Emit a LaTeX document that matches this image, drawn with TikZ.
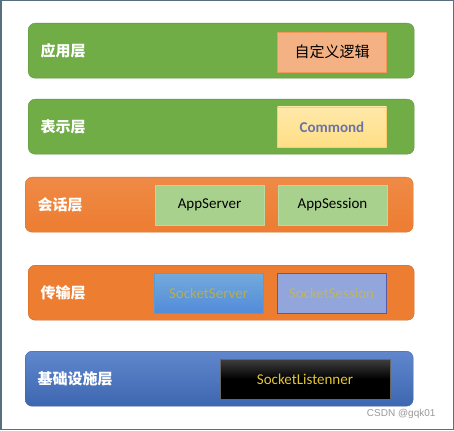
\documentclass[tikz,border=0pt]{standalone}
\usepackage{fontspec}
\usepackage{xcolor}
\setmainfont{Carlito}
\newfontfamily\cjk{Noto Sans CJK SC}
\newfontfamily\wmfont{Liberation Sans}

\definecolor{lgreen}{HTML}{70AD47}
\definecolor{lorange}{HTML}{ED7D31}
\definecolor{lblue}{HTML}{4472C4}
\definecolor{salmon}{HTML}{F4B183}
\definecolor{paleyellow}{HTML}{FFDF85}
\definecolor{palegreen}{HTML}{A9D18E}
\definecolor{skyblue}{HTML}{5B9BD5}
\definecolor{lavender}{HTML}{93A6DC}
\definecolor{oliveyel}{HTML}{B9AE4E}
\definecolor{slateblue}{HTML}{6B72A8}
\definecolor{framecol}{HTML}{56707F}

\begin{document}
\begin{tikzpicture}[x=1pt,y=-1pt,
    layer/.style={rounded corners=7pt, minimum width=386pt, minimum height=55pt, inner sep=0pt, anchor=north west},
    lbl/.style={anchor=west, text=white, font=\cjk\bfseries\fontsize{15}{17}\selectfont},
    box/.style={minimum width=109pt, minimum height=40pt, inner sep=0pt, font=\fontsize{15}{17}\selectfont}]
    \draw[framecol, line width=1.5pt, fill=white] (0.75,0.75) rectangle (453.25,429.25);

    % layers
    \node[layer, fill=lgreen, draw=lgreen!85!black] (app) at (28,23) {};
    \node[layer, fill=lgreen, draw=lgreen!85!black] (pres) at (28,99) {};
    \node[layer, top color=lorange!90!white, bottom color=lorange, draw=lorange!90!black, minimum width=388pt] (sess) at (25,177) {};
    \node[layer, fill=lorange, draw=lorange!85!black] (trans) at (28,265) {};
    \node[layer, top color=lblue!85!white, bottom color=lblue!90!black, draw=lblue!85!black, minimum width=388pt] (infra) at (25,351) {};

    \node[lbl] (appT) at ([xshift=9pt]app.west) {应用层};
    \node[lbl] (presT) at ([xshift=9pt]pres.west) {表示层};
    \node[lbl] (sessT) at ([xshift=9pt]sess.west) {会话层};
    \node[lbl] (transT) at ([xshift=9pt]trans.west) {传输层};
    \node[lbl] (infraT) at ([xshift=9pt]infra.west) {基础设施层};

    % components
    \node[box, fill=salmon, draw=lorange!80!white, font=\cjk\fontsize{15}{17}\selectfont] (logic) at (332,52) {自定义逻辑};
    \node[box, top color=paleyellow!70!white, bottom color=paleyellow, draw=paleyellow!80!orange, text=slateblue, font=\bfseries\fontsize{15}{17}\selectfont] (cmd) at (332,127) {Commond};
    \node[box, fill=palegreen, draw=palegreen!80!white] (appsrv) at (209.5,205) {AppServer};
    \node[box, fill=palegreen, draw=palegreen!80!white] (appses) at (332.5,205) {AppSession};
    \node[box, top color=skyblue!85!white, bottom color=skyblue!90!blue, draw=skyblue, text=oliveyel] (socksrv) at (208.5,293) {SocketServer};
    \node[box, fill=lavender, draw=blue!30!gray, text=oliveyel!90!white] (sockses) at (331.5,293) {SocketSession};
    \node[box, minimum width=170pt, top color=black!75, bottom color=black, middle color=black, draw=black!60, text=yellow!55!brown] (listen) at (305,379) {SocketListenner};

    \node[anchor=east, text=black!40, font=\wmfont\fontsize{10}{12}\selectfont] (mark) at (439,414) {CSDN @gqk01};
\end{tikzpicture}
\end{document}
